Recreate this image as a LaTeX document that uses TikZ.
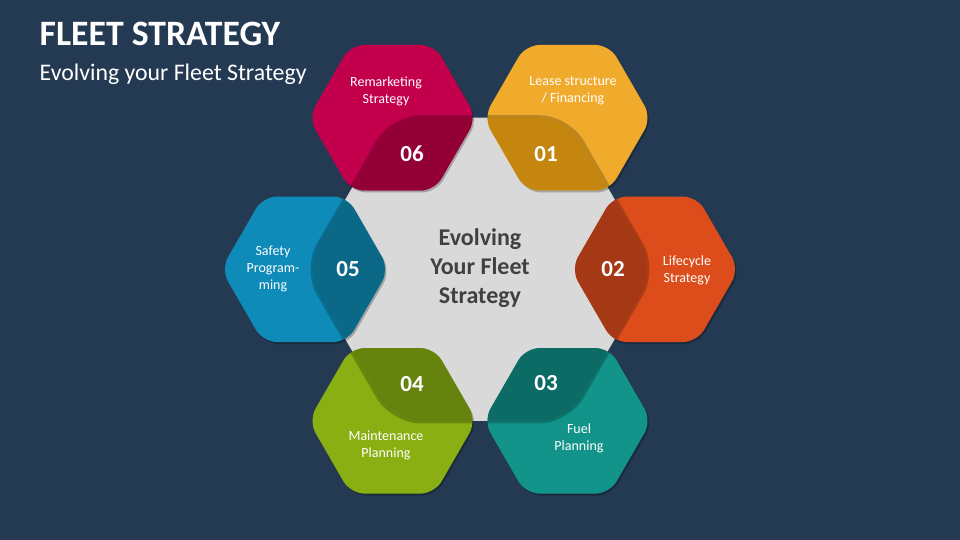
\documentclass[tikz,border=0pt]{standalone}
\usepackage{fontspec}
\setmainfont{Carlito}
\usetikzlibrary{calc}
\definecolor{bg}{HTML}{243A53}
\definecolor{grayhex}{HTML}{D9D9D9}
\definecolor{ctext}{HTML}{404040}
\definecolor{lA}{HTML}{F0AB2C}\definecolor{dA}{HTML}{C4860F}
\definecolor{lB}{HTML}{DC4D1B}\definecolor{dB}{HTML}{A53815}
\definecolor{lC}{HTML}{13948A}\definecolor{dC}{HTML}{0C6B64}
\definecolor{lD}{HTML}{8AAF12}\definecolor{dD}{HTML}{66830E}
\definecolor{lE}{HTML}{0E8BB8}\definecolor{dE}{HTML}{0B6887}
\definecolor{lF}{HTML}{C2004B}\definecolor{dF}{HTML}{930035}
\newcommand\hexpts[1]{(30:{#1*0.8660254}) -- (60:#1) -- (120:#1) -- (180:#1) -- (240:#1) -- (300:#1) -- (0:#1) -- cycle}
\newcommand\petal[3]{%
  \fill[black, opacity=0.25, rounded corners=14pt, shift={($(#1)+(1.5,2)$)}] \hexpts{84};
  \fill[#2, rounded corners=14pt, shift={(#1)}] \hexpts{84};
  \begin{scope}
    \clip[rounded corners=14pt, shift={(#1)}] \hexpts{84};
    \draw[black, opacity=0.22, line width=5pt, rounded corners=28pt, shift={(C)}] \hexpts{175};
    \fill[#3, rounded corners=28pt, shift={(C)}] \hexpts{175};
  \end{scope}}
\tikzset{
  lbl/.style={text=white, align=center, font=\fontsize{14}{17}\selectfont, inner sep=0pt},
  num/.style={text=white, font=\fontsize{23}{26}\selectfont\bfseries, inner sep=0pt},
}
\begin{document}
\begin{tikzpicture}[x=1pt,y=-1pt]
\useasboundingbox (0,0) rectangle (960,540);
\fill[bg] (0,0) rectangle (960,540);
\coordinate (C) at (480,269.3);
\coordinate (c1) at ($(C)+(300:175)$);
\coordinate (c2) at ($(C)+(0:175)$);
\coordinate (c3) at ($(C)+(60:175)$);
\coordinate (c4) at ($(C)+(120:175)$);
\coordinate (c5) at ($(C)+(180:175)$);
\coordinate (c6) at ($(C)+(240:175)$);
\fill[grayhex, rounded corners=28pt, shift={(C)}] \hexpts{175};
\petal{c1}{lA}{dA}
\petal{c2}{lB}{dB}
\petal{c3}{lC}{dC}
\petal{c4}{lD}{dD}
\petal{c5}{lE}{dE}
\petal{c6}{lF}{dF}
% titles
\node[anchor=base west, text=white, font=\fontsize{35.7}{40}\selectfont\bfseries, inner sep=0pt] (title) at (39.5,46) {FLEET STRATEGY};
\node[anchor=base west, text=white, font=\fontsize{23.8}{27}\selectfont, inner sep=0pt] (sub) at (39.5,81) {Evolving your Fleet Strategy};
% center
\node[text=ctext, align=center, font=\fontsize{24}{29}\selectfont\bfseries, inner sep=0pt] (center) at (480,268) {Evolving\\Your Fleet\\Strategy};
% labels
\node[lbl] (t6) at (386,91) {Remarketing\\Strategy};
\node[lbl] (t1) at (573,91) {Lease structure\\/ Financing};
\node[lbl] (t2) at (687,270) {Lifecycle\\Strategy};
\node[lbl] (t3) at (579,438) {Fuel\\Planning};
\node[lbl] (t4) at (386,445) {Maintenance\\Planning};
\node[lbl] (t5) at (273,269) {Safety\\Program-\\ming};
% numbers
\node[num] (n6) at (412,154) {06};
\node[num] (n1) at (546,154) {01};
\node[num] (n2) at (613,269) {02};
\node[num] (n3) at (546,383) {03};
\node[num] (n4) at (412,384) {04};
\node[num] (n5) at (348,269) {05};
\end{tikzpicture}
\end{document}
